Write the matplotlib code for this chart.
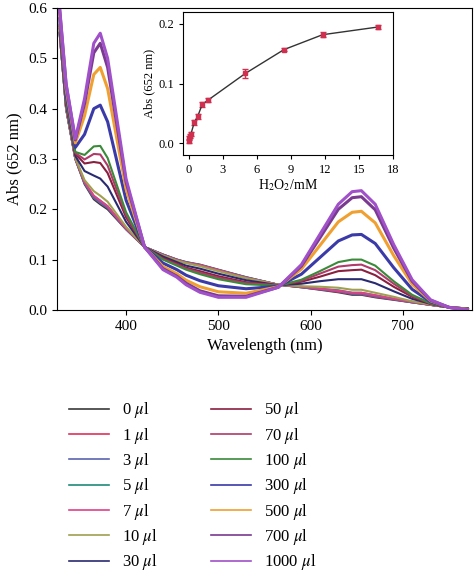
import matplotlib
matplotlib.use('Agg')
import matplotlib.pyplot as plt
from matplotlib.lines import Line2D

plt.rcParams['font.family'] = ['Liberation Serif', 'DejaVu Serif']
plt.rcParams['mathtext.fontset'] = 'stix'

wavelength = [328, 335, 345, 355, 365, 372, 380, 390, 400, 420, 440, 455, 465, 480,
              500, 530, 565, 590, 610, 630, 645, 655, 670, 690, 710, 730, 750, 770]

labels = ['0', '1', '3', '5', '7', '10', '30', '50', '70', '100', '300', '500', '700', '1000']
colors = ['#3a3a3a', '#e0305a', '#5a64b0', '#1f8a78', '#e0408a', '#a0a050', '#2a2a70',
          '#8a2040', '#b03a6a', '#3a8a3a', '#3a3aa8', '#f0a030', '#7a3a90', '#a050c8']

spectra = [
    [.55, .40, .30, .25, .22, .21, .20, .18, .16, .125, .11, .10, .095, .09, .08, .065, .05, .045, .04, .035, .03, .03, .025, .02, .015, .01, .005, .003],
    [.55, .40, .30, .252, .223, .213, .203, .182, .161, .125, .11, .10, .094, .089, .079, .064, .05, .045, .041, .036, .032, .031, .026, .021, .015, .01, .005, .003],
    [.55, .40, .30, .252, .223, .213, .203, .182, .161, .125, .11, .10, .095, .089, .079, .065, .05, .045, .041, .037, .032, .032, .027, .021, .015, .01, .005, .003],
    [.551, .401, .301, .253, .226, .217, .206, .184, .162, .125, .109, .099, .094, .089, .079, .064, .05, .046, .042, .039, .034, .034, .029, .022, .016, .01, .005, .003],
    [.551, .401, .301, .254, .227, .217, .206, .184, .162, .125, .109, .099, .094, .089, .079, .064, .05, .046, .042, .038, .034, .034, .029, .022, .016, .01, .005, .003],
    [.553, .403, .302, .258, .236, .227, .215, .19, .165, .125, .108, .098, .093, .087, .077, .063, .05, .047, .046, .044, .04, .04, .034, .026, .017, .011, .005, .003],
    [.558, .408, .306, .276, .267, .261, .245, .21, .175, .125, .106, .095, .088, .082, .072, .059, .049, .052, .057, .061, .061, .061, .053, .037, .022, .012, .005, .003],
    [.562, .412, .31, .291, .294, .292, .272, .228, .184, .125, .103, .092, .084, .077, .067, .055, .049, .056, .066, .077, .079, .08, .069, .046, .026, .012, .005, .002],
    [.565, .415, .312, .299, .31, .309, .287, .238, .189, .125, .101, .09, .082, .074, .064, .053, .049, .058, .072, .086, .089, .09, .079, .052, .028, .013, .005, .002],
    [.567, .417, .314, .308, .325, .326, .302, .248, .194, .125, .10, .088, .08, .071, .061, .051, .048, .06, .077, .095, .10, .10, .088, .057, .03, .013, .005, .002],
    [.579, .429, .323, .349, .40, .407, .374, .296, .218, .125, .093, .08, .069, .058, .048, .042, .047, .071, .104, .137, .149, .15, .132, .084, .041, .016, .005, .001],
    [.59, .44, .332, .386, .468, .482, .44, .34, .24, .125, .086, .072, .059, .046, .036, .033, .046, .081, .128, .175, .194, .196, .173, .108, .051, .018, .005, .001],
    [.597, .447, .338, .41, .511, .53, .482, .368, .254, .125, .082, .067, .053, .038, .028, .027, .045, .087, .143, .20, .223, .225, .199, .123, .057, .019, .005, .0],
    [.60, .45, .34, .42, .53, .55, .50, .38, .26, .125, .08, .065, .05, .035, .025, .025, .045, .09, .15, .21, .235, .237, .21, .13, .06, .02, .005, .0],
]

# inset: H2O2 concentration vs absorbance
h2o2 = [0.0, 0.05, 0.1, 0.2, 0.5, 0.8, 1.2, 1.7, 5.0, 8.4, 11.8, 16.7]
abs652 = [0.003, 0.008, 0.012, 0.015, 0.035, 0.045, 0.065, 0.072, 0.117, 0.157, 0.182, 0.195]
abs_err = [0.003, 0.003, 0.003, 0.003, 0.004, 0.004, 0.004, 0.003, 0.007, 0.003, 0.004, 0.003]

fig = plt.figure(figsize=(4.74, 5.76), dpi=100)
ax = fig.add_axes([0.12, 0.462, 0.876, 0.524])

for i, (lab, col, sp) in enumerate(zip(labels, colors, spectra)):
    lw = 2.2 if i >= 10 else 1.5
    ax.plot(wavelength, sp, color=col, lw=lw)

ax.set_xlim(325, 775)
ax.set_ylim(0, 0.6)
ax.set_xticks([400, 500, 600, 700])
ax.set_yticks([0, 0.1, 0.2, 0.3, 0.4, 0.5, 0.6])
ax.set_yticklabels(['0.0', '0.1', '0.2', '0.3', '0.4', '0.5', '0.6'])
ax.set_xlabel('Wavelength (nm)', fontsize=12)
ax.set_ylabel('Abs (652 nm)', fontsize=12)
ax.tick_params(labelsize=11)

ins = fig.add_axes([0.386, 0.731, 0.443, 0.248])
ins.errorbar(h2o2, abs652, yerr=abs_err, color='#333333', lw=1,
             marker='s', ms=3, mfc='#d03050', mec='#d03050',
             ecolor='#d03050', capsize=2, elinewidth=1)
ins.set_xlim(-0.5, 18)
ins.set_ylim(-0.02, 0.22)
ins.set_xticks([0, 3, 6, 9, 12, 15, 18])
ins.set_yticks([0.0, 0.1, 0.2])
ins.set_yticklabels(['0.0', '0.1', '0.2'])
ins.tick_params(labelsize=9, length=3)
ins.set_xlabel('H$_2$O$_2$/mM', fontsize=10, labelpad=1)
ins.set_ylabel('Abs (652 nm)', fontsize=9, labelpad=2)

handles = [Line2D([], [], color=c, lw=1.2) for c in colors]
names = [l + ' $\\mu$l' for l in labels]
fig.legend(handles, names, loc='upper left', bbox_to_anchor=(0.12, 0.325),
           ncol=2, frameon=False, fontsize=12, handlelength=2.4,
           labelspacing=0.32, columnspacing=3.2, borderpad=0.2)

fig.savefig('out.png', dpi=100)
